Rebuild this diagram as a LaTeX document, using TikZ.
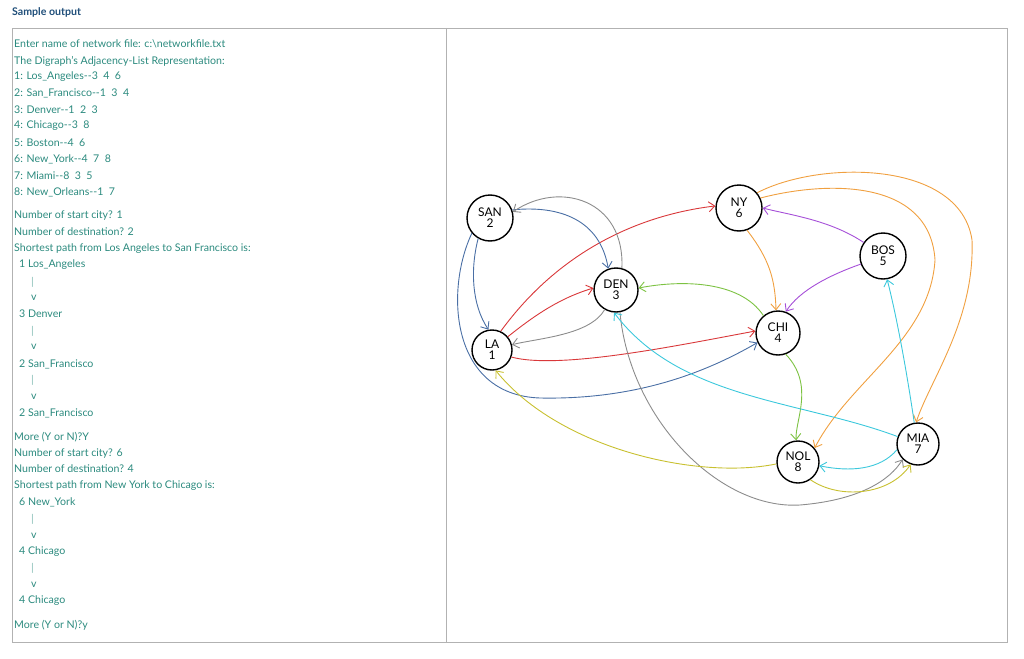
\documentclass[tikz,border=0pt]{standalone}
\usepackage{fontspec}
\setmainfont{Lato}
\usetikzlibrary{arrows.meta}
\definecolor{tc}{HTML}{2B8A7E}
\definecolor{hd}{HTML}{1F4E79}
\definecolor{cr}{HTML}{D9383A}
\definecolor{cb}{HTML}{4A6FA5}
\definecolor{cg}{HTML}{8C8C8C}
\definecolor{cgr}{HTML}{7CC242}
\definecolor{cp}{HTML}{A64FD8}
\definecolor{co}{HTML}{F0A040}
\definecolor{cc}{HTML}{3CC8DC}
\definecolor{cy}{HTML}{C8C030}
\tikzset{
 ln/.style={anchor=west,inner sep=0pt,text=tc,font=\fontsize{10.6}{11}\selectfont},
 city/.style={circle,draw=black,line width=1.4pt,minimum size=40pt,inner sep=0pt,align=center,font=\fontsize{12}{11}\selectfont,fill=white},
 ed/.style={line width=0.9pt,-{Straight Barb[length=6pt,width=10pt]}}
}
\begin{document}
\begin{tikzpicture}[x=1pt,y=-1pt]
\useasboundingbox (0,0) rectangle (1024,658);
\node[anchor=west,inner sep=0pt,text=hd,font=\bfseries\fontsize{10.6}{11}\selectfont] (title) at (12,12) {Sample output};
\draw[gray!60,line width=0.8pt] (12,28) rectangle (1007,642);
\draw[gray!60,line width=0.8pt] (446,28) -- (446,642);
\foreach \y/\t in {44/{Enter name of network file: c:\textbackslash networkfile.txt},61/{The Digraph's Adjacency-List Representation:},77/{1: Los\_Angeles{-}{-}3\ \ 4\ \ 6},93/{2: San\_Francisco{-}{-}1\ \ 3\ \ 4},110/{3: Denver{-}{-}1\ \ 2\ \ 3},126/{4: Chicago{-}{-}3\ \ 8},143/{5: Boston{-}{-}4\ \ 6},159/{6: New\_York{-}{-}4\ \ 7\ \ 8},176/{7: Miami{-}{-}8\ \ 3\ \ 5},192/{8: New\_Orleans{-}{-}1\ \ 7},216/{Number of start city? 1},232/{Number of destination? 2},249/{Shortest path from Los Angeles to San Francisco is:},437/{More (Y or N)?Y},453/{Number of start city? 6},469/{Number of destination? 4},486/{Shortest path from New York to Chicago is:},625/{More (Y or N)?y}}
 \node[ln] at (14,\y) {\t};
\foreach \y/\t in {265/{1 Los\_Angeles},314/{3 Denver},364/{2 San\_Francisco},413/{2 San\_Francisco},502/{6 New\_York},552/{4 Chicago},601/{4 Chicago}}
 \node[ln] at (19,\y) {\t};
\foreach \y in {282,331,380,519,568} \node[ln,text=tc!60] at (31,\y) {|};
\foreach \y in {298,347,397,536,585} \node[ln] at (31,\y) {v};

\node[city,minimum size=46pt] (san) at (490,218) {SAN\\2};
\node[city,minimum size=44pt] (den) at (616,290) {DEN\\3};
\node[city] (la) at (492,350) {LA\\1};
\node[city,minimum size=44pt] (chi) at (778,333) {CHI\\4};
\node[city,minimum size=46pt] (ny) at (739,208) {NY\\6};
\node[city,minimum size=46pt] (bos) at (883,256) {BOS\\5};
\node[city,minimum size=42pt] (nol) at (798,462) {NOL\\8};
\node[city,minimum size=42pt] (mia) at (918,444) {MIA\\7};

\draw[ed,cr] (la.40) .. controls (535,315) and (560,298) .. (den.175);
\draw[ed,cr] (la.65) .. controls (560,250) and (640,215) .. (ny.175);
\draw[ed,cr] (la.-20) .. controls (560,370) and (680,345) .. (chi.175);
\draw[ed,cb] (san.240) .. controls (470,270) and (472,305) .. (la.100);
\draw[ed,cb] (san.20) .. controls (560,205) and (600,220) .. (den.110);
\draw[ed,cb] (san.220) .. controls (445,290) and (450,395) .. (540,398) .. controls (640,400) and (710,370) .. (chi.205);
\draw[ed,cg] (den.240) .. controls (590,335) and (540,338) .. (la.15);
\draw[ed,cg] (den.75) .. controls (625,200) and (560,180) .. (san.15);
\draw[ed,cg] (den.280) .. controls (630,420) and (720,510) .. (800,505) .. controls (860,500) and (890,480) .. (mia.225);
\draw[ed,cgr] (chi.130) .. controls (740,280) and (680,280) .. (den.5);
\draw[ed,cgr] (chi.290) .. controls (815,385) and (795,420) .. (nol.95);
\draw[ed,cp] (bos.200) .. controls (830,275) and (800,290) .. (chi.70);
\draw[ed,cp] (bos.145) .. controls (830,220) and (790,215) .. (ny.0);
\draw[ed,co] (ny.290) .. controls (770,260) and (775,280) .. (chi.95);
\draw[ed,co] (ny.40) .. controls (820,160) and (960,160) .. (972,240) .. controls (975,320) and (930,380) .. (mia.95);
\draw[ed,co] (ny.25) .. controls (830,180) and (930,180) .. (935,260) .. controls (930,340) and (850,380) .. (nol.40);
\draw[ed,cc] (mia.195) .. controls (880,470) and (850,472) .. (nol.350);
\draw[ed,cc] (mia.160) .. controls (800,400) and (680,400) .. (den.265);
\draw[ed,cc] (mia.100) .. controls (905,360) and (895,310) .. (bos.280);
\draw[ed,cy] (nol.185) .. controls (700,480) and (560,450) .. (la.280);
\draw[ed,cy] (nol.305) .. controls (840,500) and (890,495) .. (mia.250);
\end{tikzpicture}
\end{document}
